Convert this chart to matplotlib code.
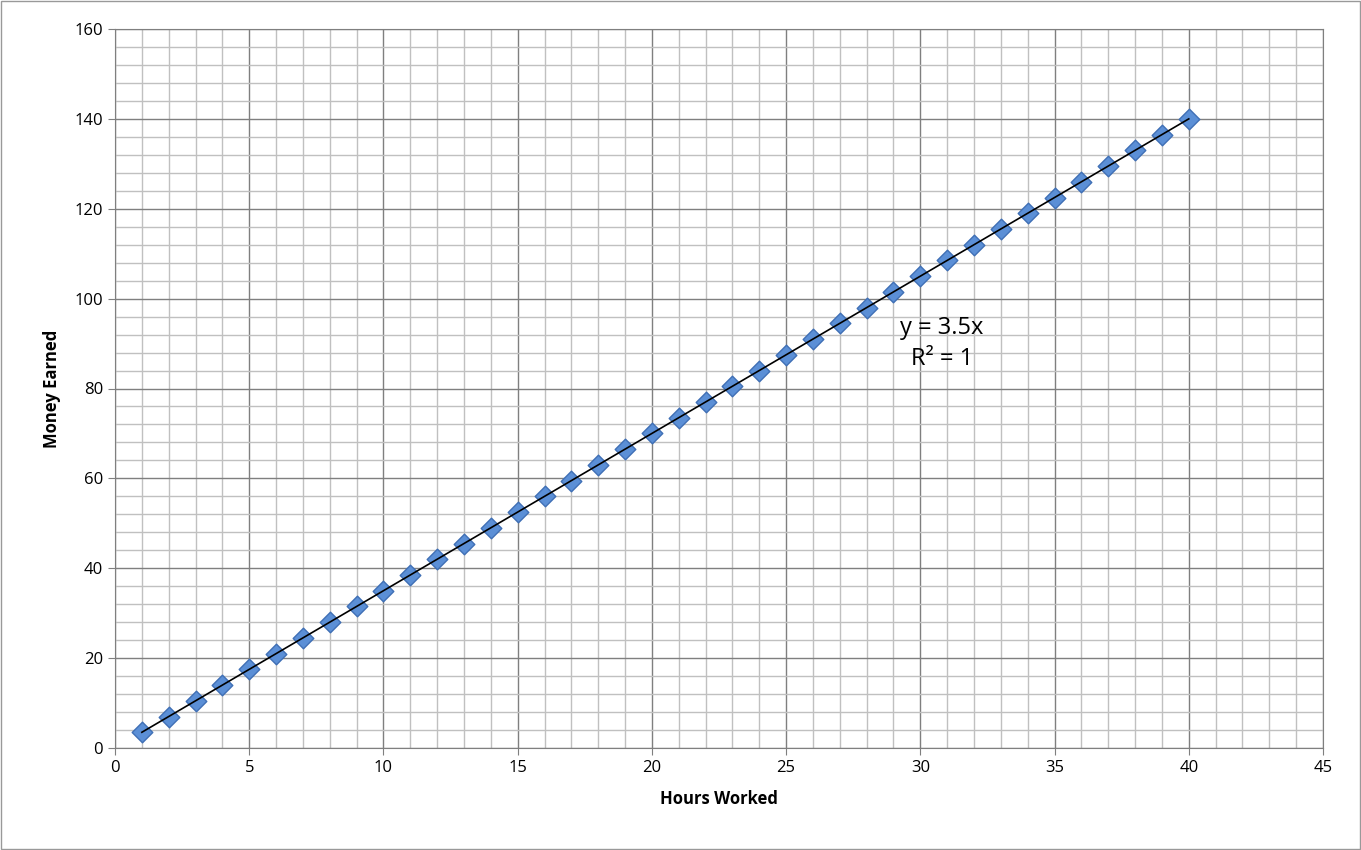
import matplotlib
matplotlib.use("Agg")
import matplotlib.pyplot as plt
from matplotlib.ticker import MultipleLocator
from matplotlib.patches import Rectangle

hours = list(range(1, 41))
money = [3.5, 7, 10.5, 14, 17.5, 21, 24.5, 28, 31.5, 35, 38.5, 42, 45.5, 49, 52.5, 56, 59.5, 63, 66.5, 70,
         73.5, 77, 80.5, 84, 87.5, 91, 94.5, 98, 101.5, 105, 108.5, 112, 115.5, 119, 122.5, 126, 129.5, 133, 136.5, 140]
slope = 3.5

plt.rcParams['font.family'] = ['Open Sans', 'DejaVu Sans']
fig = plt.figure(figsize=(13.61, 8.5), dpi=100)
fig.patches.append(Rectangle((0.001, 0.001), 0.998, 0.998, transform=fig.transFigure,
                             fill=False, edgecolor='#999999', lw=1))
ax = fig.add_axes([115/1361, 1-748/850, (1323-115)/1361, (748-29)/850])
ax.set_xlim(0, 45)
ax.set_ylim(0, 160)
ax.xaxis.set_major_locator(MultipleLocator(5))
ax.xaxis.set_minor_locator(MultipleLocator(1))
ax.yaxis.set_major_locator(MultipleLocator(20))
ax.yaxis.set_minor_locator(MultipleLocator(4))
ax.grid(which='major', color='#7f7f7f', lw=1)
ax.grid(which='minor', color='#c0c0c0', lw=1)
ax.set_axisbelow(True)
ax.tick_params(which='minor', length=0)
ax.tick_params(which='major', length=5, color='#7f7f7f', labelsize=12)
for s in ax.spines.values():
    s.set_color('#7f7f7f')

ax.scatter(hours, money, marker='D', s=110, color='#5b8fd6', edgecolor='#3f6fb5', lw=1, zorder=3)
ax.plot([hours[0], hours[-1]], [slope*hours[0], slope*hours[-1]], color='black', lw=1.2, zorder=4)
ax.text(30.8, 90, 'y = 3.5x\nR² = 1', fontsize=17, ha='center', va='center', linespacing=1.4)
ax.set_xlabel('Hours Worked', fontsize=12, fontweight='bold', labelpad=10)
ax.set_ylabel('Money Earned', fontsize=12, fontweight='bold', labelpad=10)
fig.savefig('out.png', dpi=100)
